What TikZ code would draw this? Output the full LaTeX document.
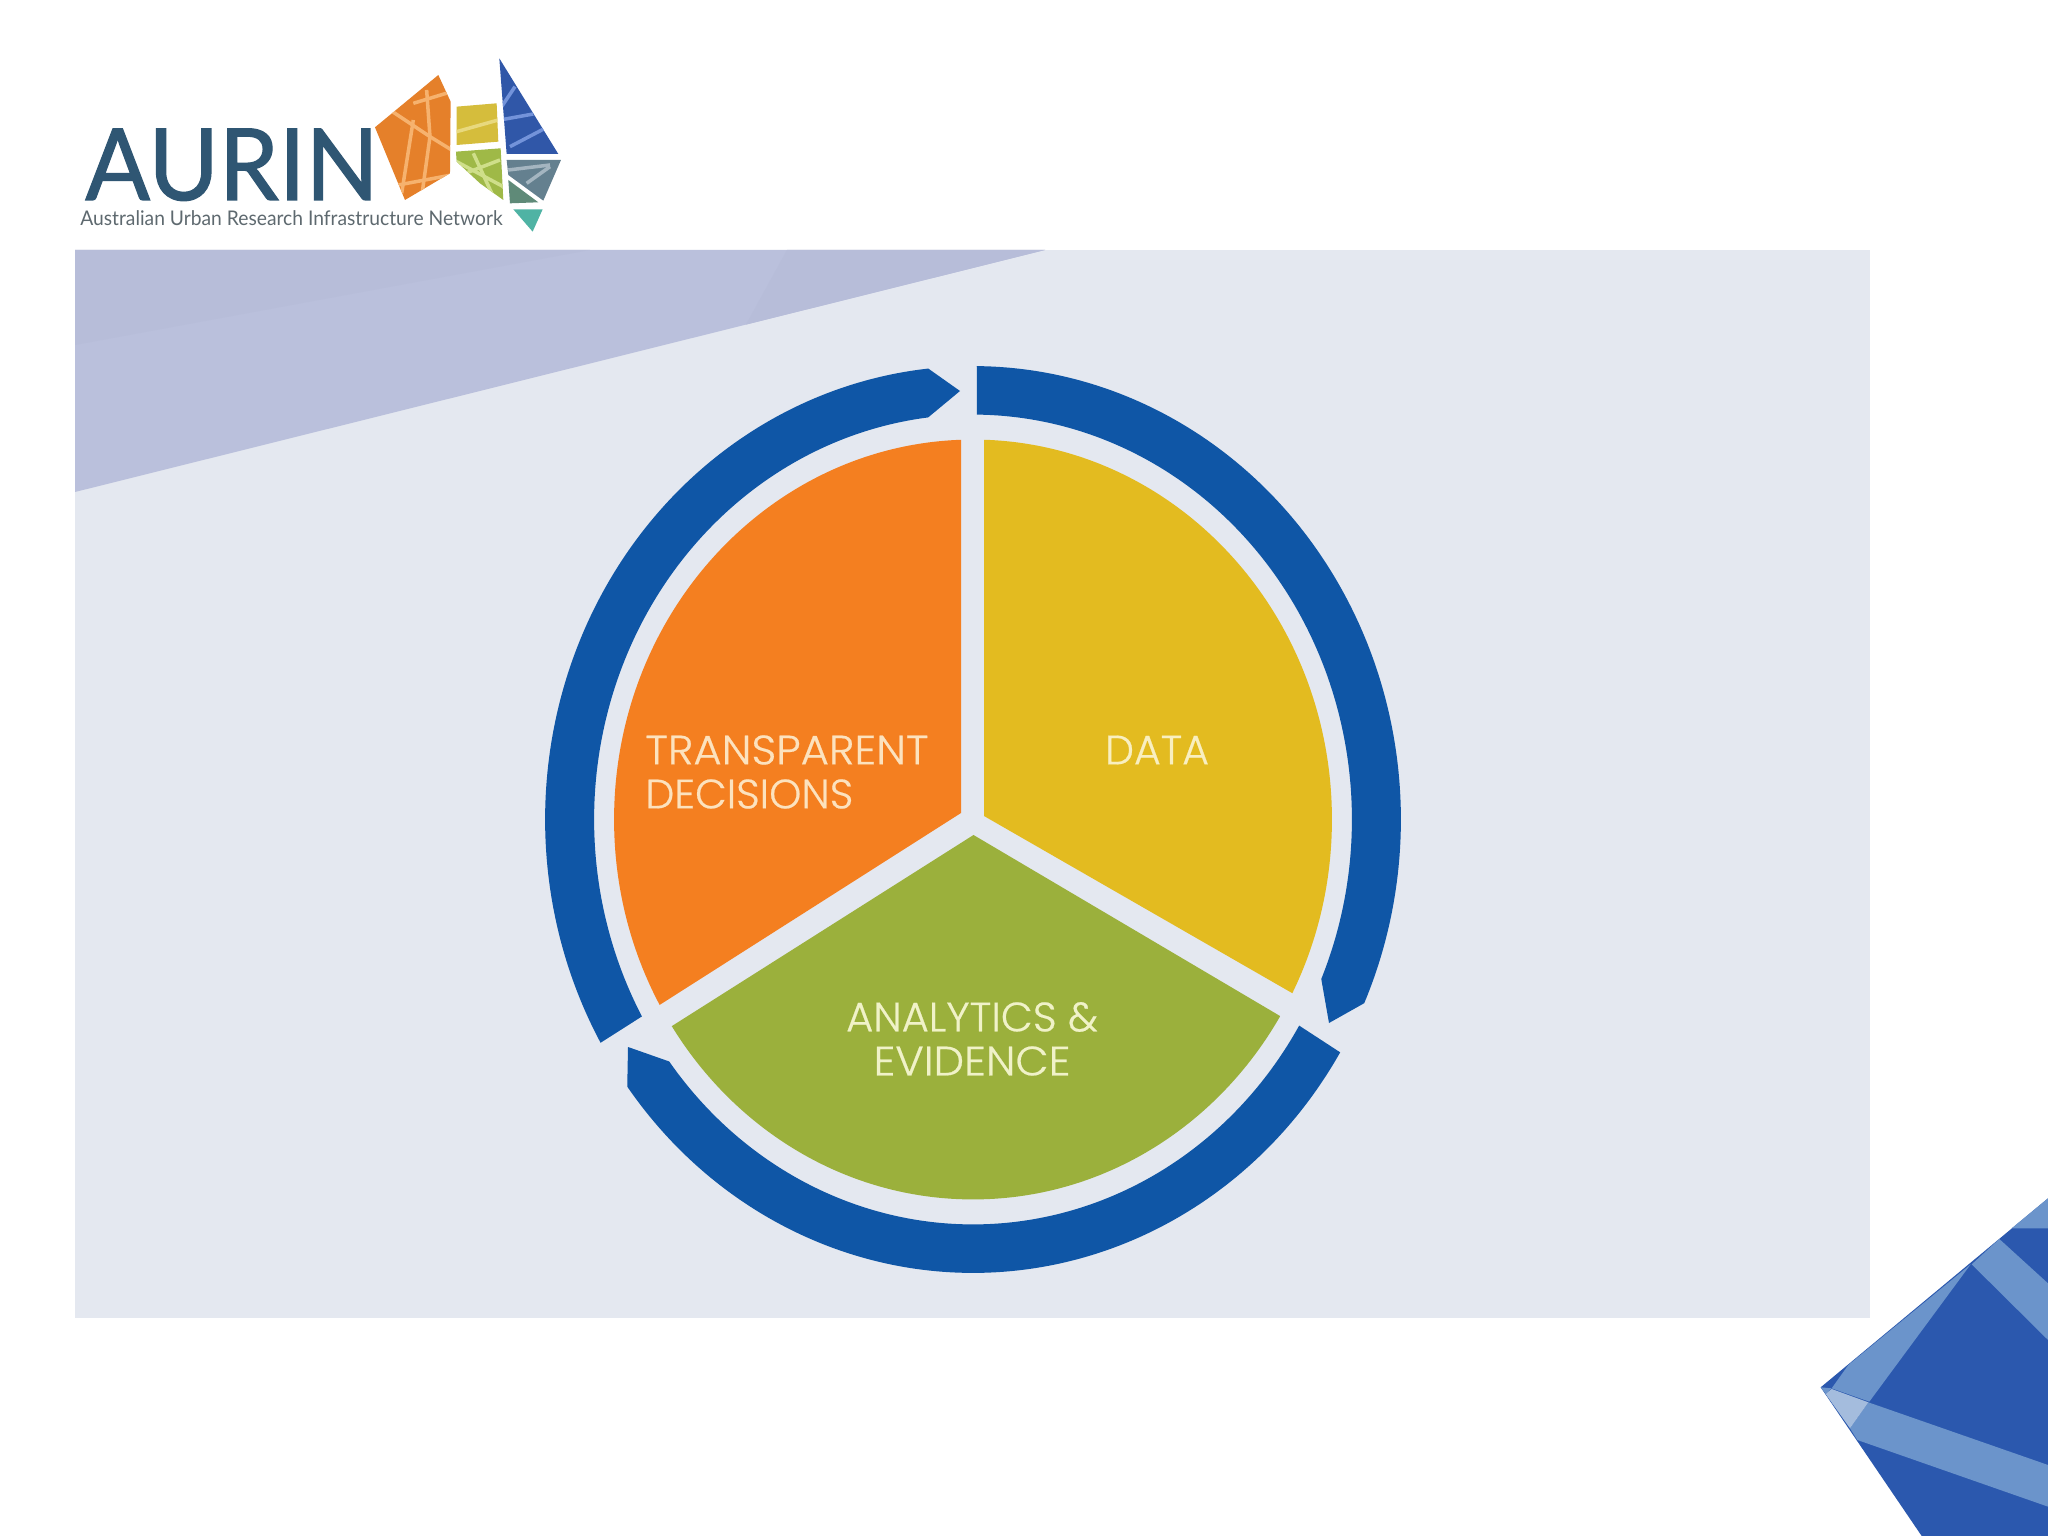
\documentclass[tikz,border=0pt]{standalone}
\usepackage{fontspec}
\setmainfont{Lato}
\newfontfamily\wheelfont[UprightFont={* Light},UprightFeatures={FakeBold=0.5}]{Poppins}
\newfontfamily\logofont[UprightFeatures={FakeBold=1.2}]{Lato}
\usetikzlibrary{calc}
\definecolor{panelbg}{HTML}{E4E8F0}
\definecolor{wedge}{HTML}{BAC0DC}
\definecolor{wedgeb}{HTML}{B7BDD9}
\definecolor{wedgec}{HTML}{B7BDD9}
\definecolor{ringblue}{HTML}{0F56A6}
\definecolor{pieorange}{HTML}{F47F20}
\definecolor{pieyellow}{HTML}{E3BB20}
\definecolor{piegreen}{HTML}{9BB03C}
\definecolor{textorange}{HTML}{FCE2BE}
\definecolor{textyellow}{HTML}{F9EFC0}
\definecolor{textgreen}{HTML}{F0F2C8}
\definecolor{aurintext}{HTML}{2F5673}
\definecolor{aurinsub}{HTML}{5E696F}
\definecolor{lgorange}{HTML}{E5802A}
\definecolor{lgorangel}{HTML}{F6B26E}
\definecolor{lgyellow}{HTML}{D5BD3C}
\definecolor{lgyellowl}{HTML}{E8D97E}
\definecolor{lggreen}{HTML}{9FB947}
\definecolor{lggreenl}{HTML}{CFDF8A}
\definecolor{lgblue}{HTML}{3057A8}
\definecolor{lgbluel}{HTML}{7393DA}
\definecolor{lgslate}{HTML}{64808F}
\definecolor{lgslatel}{HTML}{A4B5C0}
\definecolor{lgdgreen}{HTML}{5F8A78}
\definecolor{lgteal}{HTML}{4FB3A4}
\definecolor{cdark}{HTML}{2B58AE}
\definecolor{clight}{HTML}{6B94CB}
\definecolor{cpale}{HTML}{A4BCDD}
\tikzset{
  ringseg/.style={fill=ringblue},
  wheellabel/.style={font=\wheelfont\fontsize{23.4pt}{24pt}\selectfont,inner sep=0pt,transform shape},
  logoline/.style={line width=2pt}
}
\begin{document}
\begin{tikzpicture}[x=0.02cm,y=0.02cm]
\useasboundingbox (0,0) rectangle (2048,1536);
\fill[white] (0,0) rectangle (2048,1536);
% panel
\fill[panelbg] (75,218) rectangle (1870,1286);
\fill[wedge] (75,1286) -- (1045,1286) -- (75,1044) -- cycle;
\fill[wedgeb] (75,1191) -- (590,1286) -- (75,1286) -- cycle;
\fill[wedgec] (787,1286) -- (1045,1286) -- (746,1211.4) -- cycle;
\coordinate (c) at (973,716.5);
% ring
\fill[ringseg] ([shift={(89.5:8.56cm and 9.07cm)}]c) arc[start angle=89.5,end angle=-23.9,x radius=8.56cm,y radius=9.07cm]
  -- (1329,513) -- ([shift={(-23.2:7.58cm and 8.1cm)}]c) arc[start angle=-23.2,end angle=89.4,x radius=7.58cm,y radius=8.1cm] -- cycle;
\fill[ringseg] ([shift={(-30.9:8.56cm and 9.07cm)}]c) arc[start angle=-30.9,end angle=-143.9,x radius=8.56cm,y radius=9.07cm]
  -- (628,489) -- ([shift={(-143.3:7.58cm and 8.1cm)}]c) arc[start angle=-143.3,end angle=-30.6,x radius=7.58cm,y radius=8.1cm] -- cycle;
\fill[ringseg] ([shift={(209.5:8.56cm and 9.07cm)}]c) arc[start angle=209.5,end angle=96,x radius=8.56cm,y radius=9.07cm]
  -- (960,1145) -- ([shift={(96.8:7.58cm and 8.1cm)}]c) arc[start angle=96.8,end angle=209.1,x radius=7.58cm,y radius=8.1cm] -- cycle;
% sectors
\begin{scope}
\clip (984,720) -- (1292,543) -- (1446,454) -- (1446,1200) -- (984,1200) -- cycle;
\fill[pieyellow] (c) ellipse[x radius=7.18cm,y radius=7.6cm];
\end{scope}
\begin{scope}
\clip (961,723) -- (659.5,531) -- (502,431) -- (502,1200) -- (961,1200) -- cycle;
\fill[pieorange] (c) ellipse[x radius=7.18cm,y radius=7.6cm];
\end{scope}
\begin{scope}
\clip (973.5,701) -- (1280,520) -- (1433,430) -- (1433,200) -- (519,200) -- (519,432) -- (672,510) -- cycle;
\fill[piegreen] (c) ellipse[x radius=7.18cm,y radius=7.6cm];
\end{scope}
% wheel labels
\node[wheellabel,text=textorange,anchor=west,xscale=1.055] (tr) at (645,786) {TRANSPARENT};
\node[wheellabel,text=textorange,anchor=west] (de) at (645,742) {DECISIONS};
\node[wheellabel,text=textyellow] (da) at (1157,786) {DATA};
\node[wheellabel,text=textgreen,xscale=1.01] (an) at (972,519) {ANALYTICS \&};
\node[wheellabel,text=textgreen,xscale=1.05] (ev) at (972,475) {EVIDENCE};
% logo text
\node[text=aurintext,font=\logofont\fontsize{56.7pt}{60pt}\selectfont,inner sep=0pt,anchor=base west,xscale=0.96,transform shape,text depth=0pt] (aurin) at (85,1336) {AURIN};
\node[text=aurinsub,font=\fontsize{11.5pt}{13pt}\selectfont,inner sep=0pt,anchor=west,xscale=0.953,transform shape,text height=7pt,text depth=1pt] (sub) at (80,1316) {Australian Urban Research Infrastructure Network};
% logo map, in the crop's coordinates
\begin{scope}[shift={(60,1496)},x=0.0066667cm,y=-0.0066667cm]
\begin{scope}
\clip (945,262) -- (1135,105) -- (1172,185) -- (1170,400) -- (1035,480) -- cycle;
\fill[lgorange] (900,90) rectangle (1200,500);
\draw[lgorangel,logoline] (1100,150) -- (1110,290) -- (1085,470);
\draw[lgorangel,logoline] (990,210) -- (1110,290) -- (1175,330);
\draw[lgorangel,logoline] (1060,240) -- (1025,460);
\draw[lgorangel,logoline] (1015,435) -- (1175,405);
\draw[lgorangel,logoline] (1060,190) -- (1175,155);
\end{scope}
\begin{scope}
\clip (1190,200) -- (1310,190) -- (1315,305) -- (1190,315) -- cycle;
\fill[lgyellow] (1180,180) rectangle (1330,320);
\draw[lgyellowl,logoline] (1190,275) -- (1315,240);
\end{scope}
\begin{scope}
\clip (1188,335) -- (1322,325) -- (1330,480) -- (1260,430) -- (1190,365) -- cycle;
\fill[lggreen] (1180,320) rectangle (1340,490);
\draw[lggreenl,logoline] (1190,365) -- (1330,440);
\draw[lggreenl,logoline] (1190,410) -- (1320,360);
\draw[lggreenl,logoline] (1240,340) -- (1300,470);
\end{scope}
\begin{scope}
\clip (1318,55) -- (1495,342) -- (1340,342) -- cycle;
\fill[lgblue] (1310,50) rectangle (1500,350);
\draw[lgbluel,logoline] (1320,240) -- (1420,222);
\draw[lgbluel,logoline] (1350,320) -- (1455,265);
\draw[lgbluel,logoline] (1325,200) -- (1365,140);
\end{scope}
\begin{scope}
\clip (1340,360) -- (1503,360) -- (1450,482) -- (1345,405) -- cycle;
\fill[lgslate] (1335,355) rectangle (1510,490);
\draw[lgslatel,logoline] (1345,390) -- (1470,375);
\draw[lgslatel,logoline] (1400,430) -- (1470,380);
\end{scope}
\fill[lgdgreen] (1345,420) -- (1435,487) -- (1350,490) -- cycle;
\fill[lgteal] (1360,508) -- (1448,508) -- (1418,575) -- cycle;
\end{scope}
% corner logo, in the crop's coordinates
\begin{scope}[shift={(1780,366)},x=0.0066667cm,y=-0.0066667cm]
\clip (0,0) rectangle (804,1098);
\fill[cdark] (122,652) -- (804,85) -- (804,1098) -- (425,1098) -- cycle;
\fill[clight] (205,585) -- (572,283) -- (268,695) -- (155,655) -- cycle;
\fill[clight] (122,652) -- (155,655) -- (137,672) -- cycle;
\fill[clight] (265,697) -- (804,885) -- (804,1010) -- (232,810) -- (210,775) -- cycle;
\fill[clight] (575,283) -- (658,207) -- (804,340) -- (804,510) -- cycle;
\fill[clight] (695,175) -- (804,85) -- (804,175) -- cycle;
\fill[cpale] (137,672) -- (155,657) -- (265,697) -- (210,775) -- cycle;
\end{scope}
\end{tikzpicture}
\end{document}
